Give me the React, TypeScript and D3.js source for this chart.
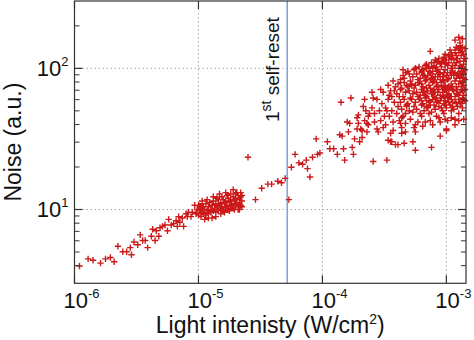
import React from 'react';
import * as d3 from 'd3';

const W = 474;
const H = 340;

const xTickValues = [1e-6, 1e-5, 1e-4, 1e-3];
const xTickExponents = ['-6', '-5', '-4', '-3'];
const yTickValues = [10, 100];
const yTickExponents = ['1', '2'];
const yMinorTicks = [4, 5, 6, 7, 8, 9, 20, 30, 40, 50, 60, 70, 80, 90, 200];
const selfResetIntensity = 5.2e-5;

// each entry: [log10 light intensity (W/cm^2), log10 noise (a.u.)]
const lowRange: [number, number][] = [
  [-5.96, 0.60], [-5.89, 0.65], [-5.85, 0.64], [-5.79, 0.62], [-5.75, 0.65], [-5.71, 0.66],
  [-5.68, 0.63], [-5.65, 0.74], [-5.61, 0.70], [-5.58, 0.70], [-5.55, 0.73], [-5.54, 0.68],
  [-5.52, 0.77], [-5.49, 0.75], [-5.47, 0.82], [-5.45, 0.78], [-5.43, 0.78], [-5.41, 0.73],
  [-5.38, 0.81], [-5.37, 0.86], [-5.35, 0.78], [-5.34, 0.85], [-5.32, 0.81], [-5.31, 0.87],
  [-5.29, 0.88], [-5.27, 0.89], [-5.25, 0.85], [-5.24, 0.93], [-5.22, 0.89], [-5.20, 0.90],
  [-5.18, 0.92], [-5.17, 0.88], [-5.16, 0.95], [-5.15, 0.91], [-5.13, 0.94], [-5.12, 0.88],
  [-5.10, 0.97], [-5.09, 0.95], [-5.08, 0.98], [-5.06, 0.95], [-5.05, 0.98], [-5.03, 1.03],
  [-5.02, 0.97], [-5.01, 1.00], [-4.99, 1.02], [-4.97, 1.04],
];

const transitionBand: [number, number][] = [
  [-5.00, 1.03], [-5.00, 0.96], [-4.99, 0.99], [-4.98, 1.01], [-4.98, 0.95], [-4.97, 0.98],
  [-4.96, 1.02], [-4.96, 0.97], [-4.95, 1.00], [-4.94, 1.04], [-4.94, 0.96], [-4.93, 0.99],
  [-4.92, 1.02], [-4.92, 0.97], [-4.91, 1.05], [-4.90, 1.00], [-4.90, 0.98], [-4.89, 1.03],
  [-4.88, 0.99], [-4.88, 1.06], [-4.87, 1.01], [-4.86, 0.98], [-4.86, 1.04], [-4.85, 1.02],
  [-4.84, 0.99], [-4.84, 1.07], [-4.83, 1.03], [-4.82, 1.00], [-4.82, 1.05], [-4.81, 1.02],
  [-4.80, 0.99], [-4.80, 1.07], [-4.79, 1.04], [-4.78, 1.01], [-4.78, 1.06], [-4.77, 1.03],
  [-4.76, 1.00], [-4.76, 1.08], [-4.75, 1.05], [-4.74, 1.02], [-4.74, 1.07], [-4.73, 1.04],
  [-4.72, 1.01], [-4.72, 1.09], [-4.71, 1.06], [-4.70, 1.03], [-4.70, 1.08], [-4.69, 1.05],
  [-4.68, 1.02], [-4.68, 1.10], [-4.67, 1.07], [-4.67, 1.04], [-4.66, 1.09], [-4.66, 1.03],
  [-4.65, 1.06], [-4.65, 1.10], [-4.66, 1.12], [-4.69, 1.12], [-4.72, 1.14], [-4.74, 1.11],
  [-4.77, 1.10], [-4.81, 1.09], [-4.85, 1.08], [-4.89, 0.94], [-4.86, 0.95], [-4.82, 0.97],
  [-4.79, 0.98], [-4.75, 0.99], [-4.71, 1.00], [-4.68, 1.00], [-4.95, 0.93], [-4.92, 0.94],
  [-4.97, 1.06], [-4.93, 1.07], [-4.88, 1.09], [-4.83, 1.11], [-4.78, 1.12], [-4.70, 1.11],
  [-4.65, 1.02], [-4.67, 1.00],
];

const midRange: [number, number][] = [
  [-4.60, 1.37], [-4.54, 1.07], [-4.49, 1.15], [-4.44, 1.18], [-4.41, 1.18], [-4.36, 1.20],
  [-4.33, 1.19], [-4.30, 1.22], [-4.27, 1.07], [-4.25, 1.30], [-4.22, 1.39], [-4.19, 1.33],
  [-4.16, 1.32], [-4.13, 1.35], [-4.12, 1.29], [-4.10, 1.23], [-4.08, 1.37], [-4.05, 1.50],
  [-4.04, 1.39], [-4.02, 1.40], [-3.96, 1.48], [-3.94, 1.43], [-3.91, 1.43], [-3.88, 1.39],
  [-3.86, 1.53], [-3.84, 1.52], [-3.83, 1.43], [-3.82, 1.35], [-3.80, 1.62], [-3.78, 1.61],
  [-3.76, 1.44], [-3.75, 1.39], [-3.85, 1.76], [-3.77, 1.79], [-3.74, 1.50], [-3.72, 1.57],
  [-3.71, 1.67], [-3.70, 1.48], [-3.68, 1.56], [-3.67, 1.73], [-3.66, 1.63], [-3.64, 1.55],
  [-3.63, 1.60], [-3.62, 1.68], [-3.60, 1.83], [-3.59, 1.34], [-3.58, 1.68], [-3.56, 1.57],
  [-3.53, 1.85], [-3.48, 1.35], [-3.47, 1.49], [-3.49, 1.60], [-3.79, 1.55], [-3.72, 1.65],
  [-3.71, 1.61], [-3.69, 1.57], [-3.68, 1.51], [-3.66, 1.78], [-3.64, 1.61], [-3.59, 1.79],
  [-3.55, 1.55], [-3.51, 1.83], [-3.48, 1.70], [-3.45, 1.54], [-3.44, 1.80], [-3.44, 1.48],
  [-3.41, 1.46], [-3.40, 1.82], [-3.37, 1.92], [-3.35, 1.99], [-3.36, 1.65], [-3.33, 1.55],
  [-3.31, 1.98], [-3.28, 1.88], [-3.27, 1.48], [-3.25, 1.55], [-3.23, 1.90], [-3.20, 1.98],
  [-3.19, 1.59], [-3.13, 2.12], [-3.12, 1.44], [-3.05, 1.52], [-3.00, 1.57], [-3.45, 1.48],
  [-3.39, 1.46], [-3.36, 1.54], [-3.34, 1.47], [-3.25, 1.42], [-3.00, 1.56], [-2.93, 1.64],
  [-2.90, 1.63], [-3.43, 1.56], [-3.37, 1.61], [-3.25, 1.60], [-3.13, 1.63], [-3.06, 1.65],
  [-3.01, 1.64], [-2.96, 1.65], [-3.49, 1.72], [-3.47, 1.78], [-3.46, 1.66], [-3.45, 1.84],
  [-3.44, 1.70], [-3.43, 1.62], [-3.42, 1.76], [-3.41, 1.87], [-3.40, 1.68], [-3.39, 1.73],
  [-3.38, 1.80], [-3.38, 1.63], [-3.37, 1.85], [-3.36, 1.58], [-3.35, 1.66], [-3.34, 1.90],
  [-3.33, 1.61], [-3.32, 1.73], [-3.52, 1.75], [-3.54, 1.70], [-3.56, 1.78], [-3.58, 1.62],
  [-3.60, 1.72], [-3.63, 1.66], [-3.65, 1.70], [-3.50, 1.66], [-3.51, 1.58], [-3.53, 1.63],
  [-3.20, 1.66], [-3.17, 1.62], [-3.14, 1.68], [-3.11, 1.60], [-3.08, 1.66], [-3.05, 1.62],
  [-3.02, 1.68], [-2.99, 1.63], [-2.96, 1.70], [-2.93, 1.60], [-2.90, 1.68], [-2.87, 1.72],
  [-2.86, 1.64], [-3.23, 1.62], [-3.26, 1.58], [-3.29, 1.64], [-3.47, 1.88], [-3.43, 1.91],
  [-3.46, 1.81], [-3.42, 1.84], [-3.39, 1.89], [-2.97, 2.13], [-2.90, 2.14], [-2.93, 2.20],
  [-2.90, 2.22], [-2.89, 2.18], [-2.87, 2.21],
];

const highCluster: [number, number][] = [
  [-3.36, 1.71], [-3.37, 1.76], [-3.35, 1.80], [-3.36, 1.86], [-3.37, 1.90], [-3.35, 1.95],
  [-3.33, 1.68], [-3.32, 1.74], [-3.34, 1.78], [-3.33, 1.83], [-3.32, 1.88], [-3.34, 1.93], [-3.33, 1.97],
  [-3.30, 1.70], [-3.31, 1.75], [-3.29, 1.79], [-3.30, 1.84], [-3.31, 1.87], [-3.29, 1.91], [-3.30, 1.96],
  [-3.27, 1.69], [-3.26, 1.73], [-3.28, 1.78], [-3.27, 1.82], [-3.26, 1.86], [-3.28, 1.89], [-3.27, 1.94], [-3.26, 1.99],
  [-3.24, 1.71], [-3.25, 1.76], [-3.23, 1.80], [-3.24, 1.83], [-3.25, 1.88], [-3.23, 1.92], [-3.24, 1.96], [-3.25, 2.00],
  [-3.21, 1.68], [-3.20, 1.74], [-3.22, 1.78], [-3.21, 1.81], [-3.20, 1.85], [-3.22, 1.90], [-3.21, 1.93], [-3.20, 1.97], [-3.22, 2.01],
  [-3.18, 1.70], [-3.19, 1.75], [-3.17, 1.79], [-3.18, 1.83], [-3.19, 1.87], [-3.17, 1.91], [-3.18, 1.95], [-3.19, 1.99], [-3.17, 2.02],
  [-3.15, 1.72], [-3.14, 1.77], [-3.16, 1.80], [-3.15, 1.84], [-3.14, 1.88], [-3.16, 1.92], [-3.15, 1.95], [-3.14, 1.98], [-3.16, 2.03],
  [-3.12, 1.69], [-3.13, 1.74], [-3.11, 1.78], [-3.12, 1.82], [-3.13, 1.86], [-3.11, 1.90], [-3.12, 1.93], [-3.13, 1.97], [-3.11, 2.00], [-3.12, 2.04],
  [-3.09, 1.71], [-3.08, 1.76], [-3.10, 1.80], [-3.09, 1.83], [-3.08, 1.87], [-3.10, 1.91], [-3.09, 1.94], [-3.08, 1.98], [-3.10, 2.02], [-3.09, 2.06],
  [-3.06, 1.73], [-3.07, 1.77], [-3.05, 1.81], [-3.06, 1.85], [-3.07, 1.88], [-3.05, 1.92], [-3.06, 1.96], [-3.07, 1.99], [-3.05, 2.03], [-3.06, 2.07],
  [-3.03, 1.70], [-3.02, 1.75], [-3.04, 1.79], [-3.03, 1.83], [-3.02, 1.86], [-3.04, 1.90], [-3.03, 1.94], [-3.02, 1.97], [-3.04, 2.01], [-3.03, 2.05], [-3.02, 2.08],
  [-3.00, 1.72], [-3.01, 1.77], [-2.99, 1.81], [-3.00, 1.84], [-3.01, 1.88], [-2.99, 1.92], [-3.00, 1.95], [-3.01, 1.99], [-2.99, 2.02], [-3.00, 2.06], [-3.01, 2.10],
  [-2.97, 1.74], [-2.96, 1.78], [-2.98, 1.82], [-2.97, 1.86], [-2.96, 1.89], [-2.98, 1.93], [-2.97, 1.97], [-2.96, 2.00], [-2.98, 2.04], [-2.97, 2.08], [-2.96, 2.11],
  [-2.94, 1.71], [-2.95, 1.76], [-2.93, 1.80], [-2.94, 1.84], [-2.95, 1.87], [-2.93, 1.91], [-2.94, 1.95], [-2.95, 1.98], [-2.93, 2.02], [-2.94, 2.06], [-2.95, 2.09], [-2.93, 2.13],
  [-2.91, 1.73], [-2.90, 1.78], [-2.92, 1.82], [-2.91, 1.85], [-2.90, 1.89], [-2.92, 1.93], [-2.91, 1.96], [-2.90, 2.00], [-2.92, 2.04], [-2.91, 2.07], [-2.90, 2.11], [-2.92, 2.15],
  [-2.88, 1.75], [-2.87, 1.79], [-2.89, 1.83], [-2.88, 1.87], [-2.87, 1.90], [-2.89, 1.94], [-2.88, 1.98], [-2.87, 2.01], [-2.89, 2.05], [-2.88, 2.09], [-2.87, 2.12], [-2.89, 2.16],
  [-2.85, 1.77], [-2.86, 1.81], [-2.85, 1.85], [-2.86, 1.88], [-2.85, 1.92], [-2.86, 1.96], [-2.85, 1.99], [-2.86, 2.03], [-2.85, 2.07], [-2.86, 2.10], [-2.85, 2.14],
];

const denseCore: [number, number][] = [
  [-3.20, 1.77], [-3.19, 1.83], [-3.20, 1.89], [-3.19, 1.95],
  [-3.16, 1.73], [-3.17, 1.81], [-3.16, 1.86], [-3.17, 1.94], [-3.16, 2.00],
  [-3.14, 1.76], [-3.13, 1.84], [-3.14, 1.88], [-3.13, 1.92], [-3.14, 2.01],
  [-3.10, 1.74], [-3.11, 1.82], [-3.10, 1.85], [-3.11, 1.96], [-3.10, 2.04],
  [-3.08, 1.79], [-3.07, 1.83], [-3.08, 1.90], [-3.07, 1.94], [-3.08, 2.01], [-3.07, 2.05],
  [-3.04, 1.72], [-3.05, 1.77], [-3.04, 1.87], [-3.05, 1.96], [-3.04, 2.04],
  [-3.01, 1.74], [-3.02, 1.80], [-3.01, 1.85], [-3.02, 1.91], [-3.01, 2.03], [-3.02, 2.07],
  [-2.98, 1.76], [-2.99, 1.79], [-2.98, 1.87], [-2.99, 1.97], [-2.98, 2.09],
  [-2.95, 1.73], [-2.96, 1.80], [-2.95, 1.85], [-2.96, 1.95], [-2.95, 2.02], [-2.96, 2.07],
  [-2.92, 1.75], [-2.93, 1.78], [-2.92, 1.87], [-2.93, 1.97], [-2.92, 2.09], [-2.93, 2.11],
  [-2.89, 1.76], [-2.90, 1.81], [-2.89, 1.91], [-2.90, 1.95], [-2.89, 2.02], [-2.90, 2.13],
  [-2.86, 1.78], [-2.87, 1.84], [-2.86, 1.93], [-2.87, 1.97], [-2.86, 2.05], [-2.87, 2.15],
];

const FONT = '"Liberation Sans", Arial, Helvetica, sans-serif';
const RED = '#cc1a1a';
const AXIS = '#333333';

export default function App() {
  const left = 74.5;
  const right = 466;
  const top = 1;
  const bottom = 283.3;
  const x = d3.scaleLog().domain([1e-6, 1.44e-3]).range([left, right]);
  const y = d3.scaleLog().domain([3, 300]).range([bottom, top]);

  const all = [...lowRange, ...transitionBand, ...midRange, ...highCluster, ...denseCore];
  const s = 3.2;
  const markerPath = all
    .map(([lx, ly]) => {
      const px = x(Math.pow(10, lx));
      const py = y(Math.pow(10, ly));
      return `M${(px - s).toFixed(1)},${py.toFixed(1)}h${2 * s}M${px.toFixed(1)},${(py - s).toFixed(1)}v${2 * s}`;
    })
    .join('');

  const majorLen = 8;
  const minorLen = 5;

  return (
    <svg width={W} height={H} style={{ position: 'absolute', left: 0, top: 0, background: '#fff' }} fontFamily={FONT}>
      <rect x={0} y={0} width={W} height={H} fill="#fff" />
      {xTickValues.slice(1).map((v) => (
        <line key={'gx' + v} x1={x(v)} x2={x(v)} y1={top} y2={bottom} stroke="#aaaaaa" strokeWidth={1} strokeDasharray="1.5,2.5" />
      ))}
      {yTickValues.map((v) => (
        <line key={'gy' + v} x1={left} x2={right} y1={y(v)} y2={y(v)} stroke="#aaaaaa" strokeWidth={1} strokeDasharray="1.5,2.5" />
      ))}
      <line x1={x(selfResetIntensity)} x2={x(selfResetIntensity)} y1={top} y2={bottom} stroke="#7f9fd8" strokeWidth={1.5} />
      <text transform={`translate(279,122) rotate(-90)`} fontSize={19} fill="#111">
        1<tspan fontSize={14} dy={-8}>st</tspan><tspan dy={8}> self-reset</tspan>
      </text>
      <path d={markerPath} stroke={RED} strokeWidth={1.4} fill="none" />
      <rect x={left} y={top} width={right - left} height={bottom - top} fill="none" stroke={AXIS} strokeWidth={1.2} />
      {xTickValues.map((v, i) => (
        <g key={'xt' + v}>
          <line x1={x(v)} x2={x(v)} y1={bottom} y2={bottom - majorLen} stroke={AXIS} strokeWidth={1.2} />
          <line x1={x(v)} x2={x(v)} y1={top} y2={top + majorLen} stroke={AXIS} strokeWidth={1.2} />
          <text x={x(v) - 11} y={308} fontSize={22} fill="#111">
            10<tspan fontSize={13} dy={-10}>{xTickExponents[i]}</tspan>
          </text>
        </g>
      ))}
      {yTickValues.map((v, i) => (
        <g key={'yt' + v}>
          <line x1={left} x2={left + majorLen} y1={y(v)} y2={y(v)} stroke={AXIS} strokeWidth={1.2} />
          <line x1={right} x2={right - majorLen} y1={y(v)} y2={y(v)} stroke={AXIS} strokeWidth={1.2} />
          <text x={68.5} y={y(v) + 8} fontSize={22} fill="#111" textAnchor="end">
            10<tspan fontSize={13} dy={-10}>{yTickExponents[i]}</tspan>
          </text>
        </g>
      ))}
      {yMinorTicks.map((v) => (
        <g key={'ym' + v}>
          <line x1={left} x2={left + minorLen} y1={y(v)} y2={y(v)} stroke={AXIS} strokeWidth={1} />
          <line x1={right} x2={right - minorLen} y1={y(v)} y2={y(v)} stroke={AXIS} strokeWidth={1} />
        </g>
      ))}
      <text x={(left + right) / 2} y={333} fontSize={23} textAnchor="middle" fill="#111">
        Light intenisty (W/cm<tspan fontSize={14} dy={-9}>2</tspan><tspan dy={9}>)</tspan>
      </text>
      <text transform={`translate(20.5,${(top + bottom) / 2}) rotate(-90)`} fontSize={23} textAnchor="middle" fill="#111">
        Noise (a.u.)
      </text>
    </svg>
  );
}
